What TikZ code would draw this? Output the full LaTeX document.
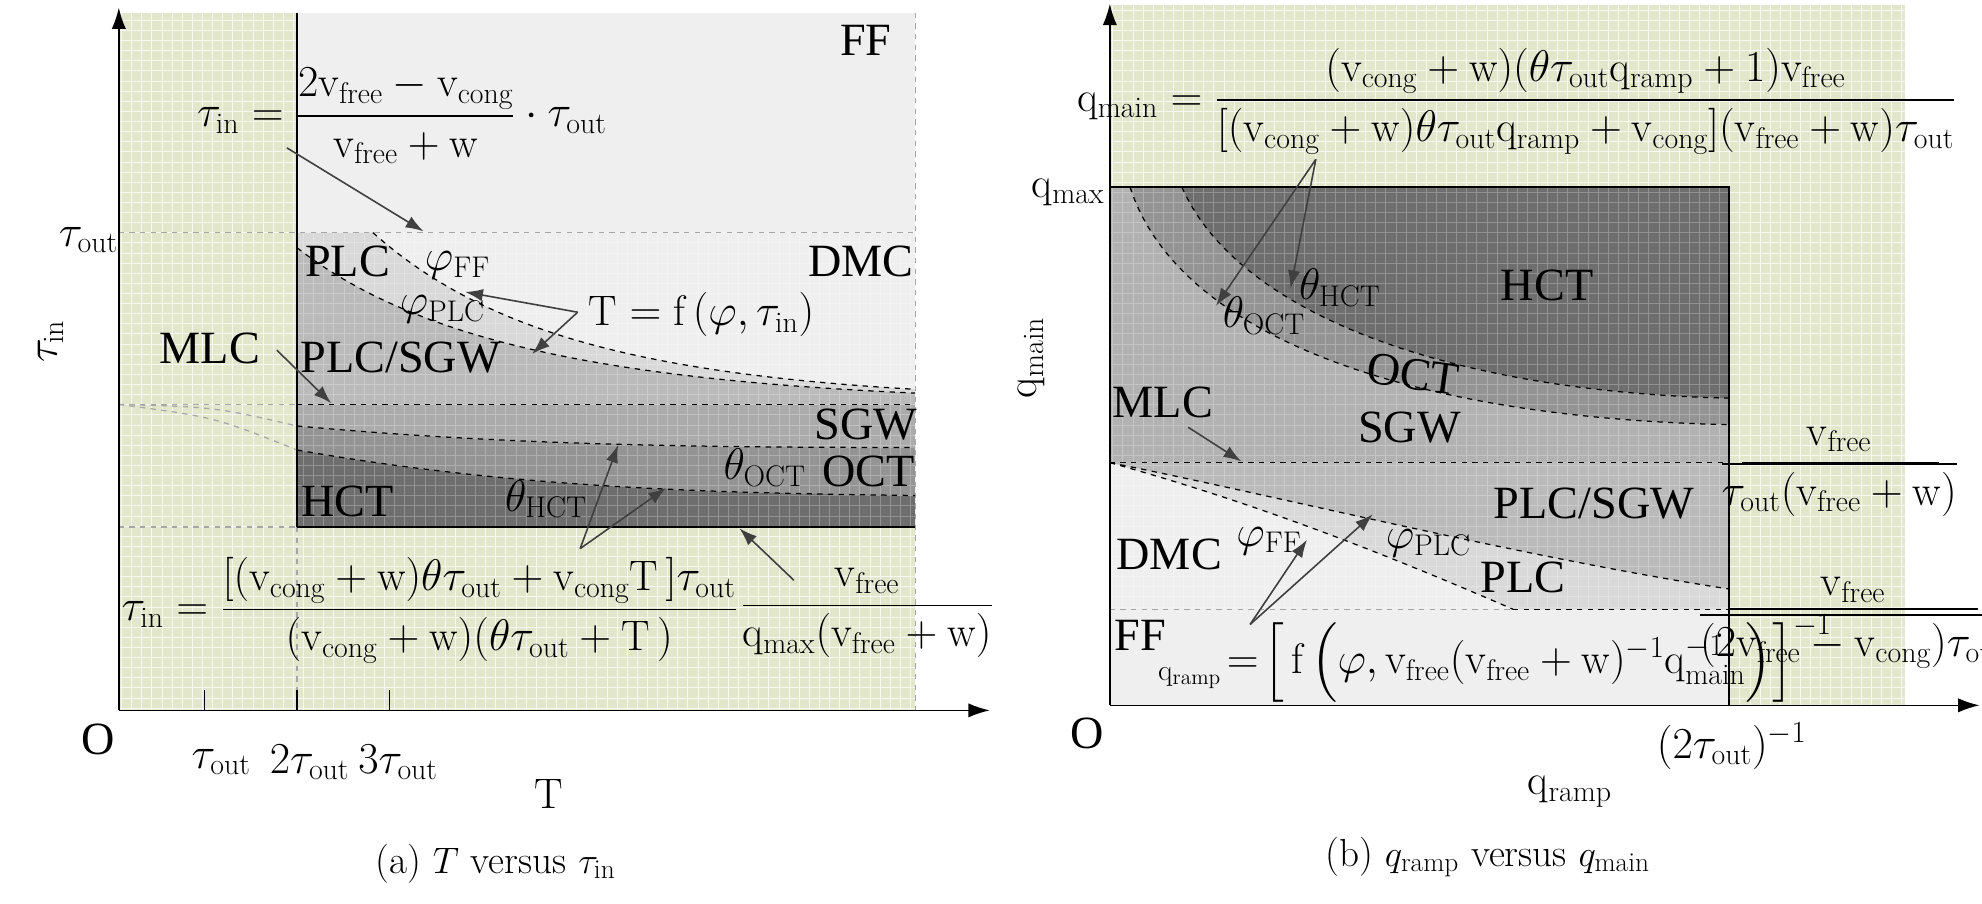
\documentclass[tikz,border=0pt]{standalone}
\usepackage{amsmath}
\usepackage{fontspec}
\newfontfamily\lab{Liberation Serif}
\usetikzlibrary{arrows.meta}
\newcommand\vfr{\mathrm{v}_{\mathrm{free}}}
\newcommand\vcg{\mathrm{v}_{\mathrm{cong}}}
\newcommand\tou{\tau_{\mathrm{out}}}
\newcommand\tin{\tau_{\mathrm{in}}}
\newcommand\ww{\mathrm{w}}
\begin{document}
\begin{tikzpicture}[x=0.025cm,y=-0.025cm,
  lbl/.style={font=\lab\fontsize{26}{30}\selectfont,inner sep=0pt},
  eq/.style={font=\fontsize{24}{28}\selectfont,inner sep=0pt},
  captxt/.style={font=\fontsize{22}{26}\selectfont,inner sep=0pt},
  gridl/.style={white,line width=0.35pt,opacity=0.75},
  bd/.style={black,dashed,line width=0.7pt},
  gd/.style={gray!70,dashed,line width=0.7pt},
  ar/.style={-{Latex[length=10pt,width=7pt]},line width=0.9pt,black!75},
  ax/.style={-{Latex[length=12pt,width=8pt]},line width=0.9pt}]
\useasboundingbox (0,0) rectangle (1568,715);
\definecolor{grn}{HTML}{E2E7CB}
\definecolor{lg}{HTML}{EFEFEF}
%================ (a)
\fill[grn] (94,10) rectangle (724,562);
\draw[gridl,step=0.2cm] (94,10) grid (724,562);
\fill[lg] (235,10) rectangle (724,417);
\fill[black!15] (235,184) -- (295,184) .. controls (380,260) and (500,295) .. (724,308) -- (724,320) -- (235,320) -- cycle;
\fill[black!27] (235,196) .. controls (330,270) and (480,300) .. (724,311) -- (724,320) -- (235,320) -- cycle;
\fill[black!33] (235,320) -- (724,320) -- (724,354) .. controls (550,354) and (400,352) .. (235,337) -- cycle;
\fill[black!42] (235,337) .. controls (400,352) and (550,354) .. (724,354) -- (724,392) .. controls (550,390) and (400,385) .. (235,356) -- cycle;
\fill[black!57] (235,356) .. controls (400,385) and (550,390) .. (724,392) -- (724,417) -- (235,417) -- cycle;
\draw[gridl,opacity=0.25,step=0.2cm] (235,184) grid (724,417);
\draw[gd] (94,184) -- (724,184);
\draw[gd] (724,10) -- (724,562);
\draw[gd] (94,320) -- (235,320);
\draw[gd] (94,417) -- (235,417);
\draw[gd] (235,417) -- (235,562);
\draw[gd] (94,320) .. controls (170,322) .. (235,337);
\draw[gd] (94,320) .. controls (170,330) .. (235,356);
\draw[bd] (235,320) -- (724,320);
\draw[bd] (235,337) .. controls (400,352) and (550,354) .. (724,354);
\draw[bd] (235,356) .. controls (400,385) and (550,390) .. (724,392);
\draw[bd] (235,196) .. controls (330,270) and (480,300) .. (724,311);
\draw[bd] (295,184) .. controls (380,260) and (500,295) .. (724,308);
\draw[line width=0.9pt] (235,10) -- (235,417);
\draw[line width=1.4pt] (235,417) -- (724,417);
\draw[ax] (94,562) -- (783,562);
\draw[ax] (94,562) -- (94,6);
\foreach \x/\n in {162/ta,235/tb,308/tc} \draw[line width=0.8pt] (\x,562) -- (\x,546) coordinate (\n);
\node[lbl] (ffa) at (685,32) {FF};
\node[eq] (eqa1) at (318,92) {$\tin=\dfrac{2\vfr-\vcg}{\vfr+\ww}\cdot\tou$};
\node[lbl] (plca) at (275,207) {PLC};
\node[eq] (phiffa) at (362,210) {$\varphi_{\mathrm{FF}}$};
\node[lbl] (dmca) at (681,207) {DMC};
\node[eq] (phiplca) at (350,245) {$\varphi_{\mathrm{PLC}}$};
\node[eq] (tfa) at (555,249) {$\mathrm{T}=\mathrm{f}\,(\varphi,\tin)$};
\node[lbl] (mlca) at (166,276) {MLC};
\node[lbl] (plcsgwa) at (317,283) {PLC/SGW};
\node[lbl] (sgwa) at (685,336) {SGW};
\node[eq] (thocta) at (605,370) {$\theta_{\mathrm{OCT}}$};
\node[lbl] (octa) at (687,373) {OCT};
\node[lbl] (hcta) at (275,397) {HCT};
\node[eq] (thhcta) at (432,395) {$\theta_{\mathrm{HCT}}$};
\node[eq] (eqa2) at (340,483) {$\tin=\dfrac{[(\vcg+\ww)\theta\tou+\vcg\mathrm{T}\,]\tou}{(\vcg+\ww)(\theta\tou+\mathrm{T}\,)}$};
\node[eq] (eqa3) at (686,485) {$\dfrac{\vfr}{\mathrm{q}_{\mathrm{max}}(\vfr+\ww)}$};
\node[lbl] (oa) at (78,585) {O};
\node[eq] (t1) at (175,603) {$\tou$};
\node[eq] (t2) at (245,603) {$2\tou$};
\node[eq] (t3) at (315,603) {$3\tou$};
\node[eq] (tla) at (434,628) {$\mathrm{T}$};
\node[eq,rotate=90] (tiny) at (40,270) {$\tin$};
\node[eq] (toy) at (70,190) {$\tou$};
\node[captxt] (capa) at (392,683) {(a) $T$ versus $\tau_{\mathrm{in}}$};
\coordinate (a1s) at (227,117); \coordinate (a1e) at (335,183);
\draw[ar] (a1s) -- (a1e);
\coordinate (a2s) at (457,247); \coordinate (a2e) at (368,231); \coordinate (a3e) at (421,280);
\draw[ar] (a2s) -- (a2e); \draw[ar] (a2s) -- (a3e);
\coordinate (a4s) at (219,277); \coordinate (a4e) at (262,319);
\draw[ar] (a4s) -- (a4e);
\coordinate (a5s) at (459,434); \coordinate (a5e) at (489,352); \coordinate (a6e) at (527,386);
\draw[ar] (a5s) -- (a5e); \draw[ar] (a5s) -- (a6e);
\coordinate (a7s) at (628,459); \coordinate (a7e) at (585,418);
\draw[ar] (a7s) -- (a7e);
%================ (b)
\fill[grn] (878,4) rectangle (1507,558);
\draw[gridl,step=0.2cm] (878,4) grid (1507,558);
\fill[lg] (878,148) rectangle (1368,558);
\fill[black!15] (878,366) .. controls (1000,400) and (1100,440) .. (1197,482) -- (1368,482) -- (1368,366) -- cycle;
\fill[black!27] (878,366) .. controls (1000,390) and (1200,440) .. (1368,466) -- (1368,366) -- cycle;
\fill[black!30] (878,148) -- (894,148) .. controls (930,260) and (1100,330) .. (1368,336) -- (1368,366) -- (878,366) -- cycle;
\fill[black!42] (894,148) -- (935,148) .. controls (980,250) and (1150,310) .. (1368,315) -- (1368,336) .. controls (1100,330) and (930,260) .. (894,148) -- cycle;
\fill[black!57] (935,148) -- (1368,148) -- (1368,315) .. controls (1150,310) and (980,250) .. (935,148) -- cycle;
\draw[gridl,opacity=0.25,step=0.2cm] (878,148) grid (1368,482);
\draw[gd] (878,482) -- (1197,482);
\draw[bd] (1197,482) -- (1368,482);
\draw[bd] (878,366) -- (1368,366);
\draw[bd] (878,366) .. controls (1000,400) and (1100,440) .. (1197,482);
\draw[bd] (878,366) .. controls (1000,390) and (1200,440) .. (1368,466);
\draw[bd] (894,148) .. controls (930,260) and (1100,330) .. (1368,336);
\draw[bd] (935,148) .. controls (980,250) and (1150,310) .. (1368,315);
\draw[line width=1.2pt] (878,148) -- (1368,148) -- (1368,558);
\draw[line width=0.9pt] (1378,366) -- (1534,366);
\draw[line width=0.9pt] (1368,482) -- (1565,482);
\draw[ax] (878,558) -- (1566,558);
\draw[ax] (878,558) -- (878,3);
\node[eq] (eqb1) at (1200,80) {$\mathrm{q}_{\mathrm{main}}=\dfrac{(\vcg+\ww)(\theta\tou\mathrm{q}_{\mathrm{ramp}}+1)\vfr}{[(\vcg+\ww)\theta\tou\mathrm{q}_{\mathrm{ramp}}+\vcg](\vfr+\ww)\tou}$};
\node[eq] (qmax) at (845,152) {$\mathrm{q}_{\mathrm{max}}$};
\node[eq,rotate=90] (qmainy) at (816,283) {$\mathrm{q}_{\mathrm{main}}$};
\node[eq] (thhctb) at (1060,228) {$\theta_{\mathrm{HCT}}$};
\node[eq] (thoctb) at (1000,250) {$\theta_{\mathrm{OCT}}$};
\node[lbl] (hctb) at (1224,226) {HCT};
\node[lbl,rotate=-8] (octb) at (1118,296) {OCT};
\node[lbl] (sgwb) at (1115,338) {SGW};
\node[lbl] (mlcb) at (920,318) {MLC};
\node[eq] (eqb2) at (1455,373) {$\dfrac{\vfr}{\tou(\vfr+\ww)}$};
\node[lbl] (plcsgwb) at (1261,398) {PLC/SGW};
\node[lbl] (dmcb) at (925,439) {DMC};
\node[eq] (phiffb) at (1004,428) {$\varphi_{\mathrm{FF}}$};
\node[eq] (phiplcb) at (1130,430) {$\varphi_{\mathrm{PLC}}$};
\node[lbl] (plcb) at (1205,457) {PLC};
\node[eq] (eqb3) at (1466,493) {$\dfrac{\vfr}{(2\vfr-\vcg)\tou}$};
\node[lbl] (ffb) at (902,503) {FF};
\node[eq,anchor=west] (eqb4) at (916,521) {$_{\mathrm{q}_{\mathrm{ramp}}}\!=\!\Bigl[\,\mathrm{f}\,\Bigl(\varphi,\vfr(\vfr+\ww)^{-1}\mathrm{q}_{\mathrm{main}}^{-1}\Bigr)\Bigr]^{-1}$};
\node[lbl] (ob) at (860,580) {O};
\node[eq] (q2t) at (1370,590) {$(2\tou)^{-1}$};
\node[eq] (qrl) at (1242,626) {$\mathrm{q}_{\mathrm{ramp}}$};
\node[captxt] (capb) at (1177,678) {(b) $q_{\mathrm{ramp}}$ versus $q_{\mathrm{main}}$};
\coordinate (b1s) at (1041,126); \coordinate (b1e) at (962,242); \coordinate (b2e) at (1021,228);
\draw[ar] (b1s) -- (b1e); \draw[ar] (b1s) -- (b2e);
\coordinate (b3s) at (940,338); \coordinate (b3e) at (982,365);
\draw[ar] (b3s) -- (b3e);
\coordinate (b4s) at (989,494); \coordinate (b4e) at (1034,427); \coordinate (b5e) at (1086,407);
\draw[ar] (b4s) -- (b4e); \draw[ar] (b4s) -- (b5e);
\end{tikzpicture}
\end{document}
